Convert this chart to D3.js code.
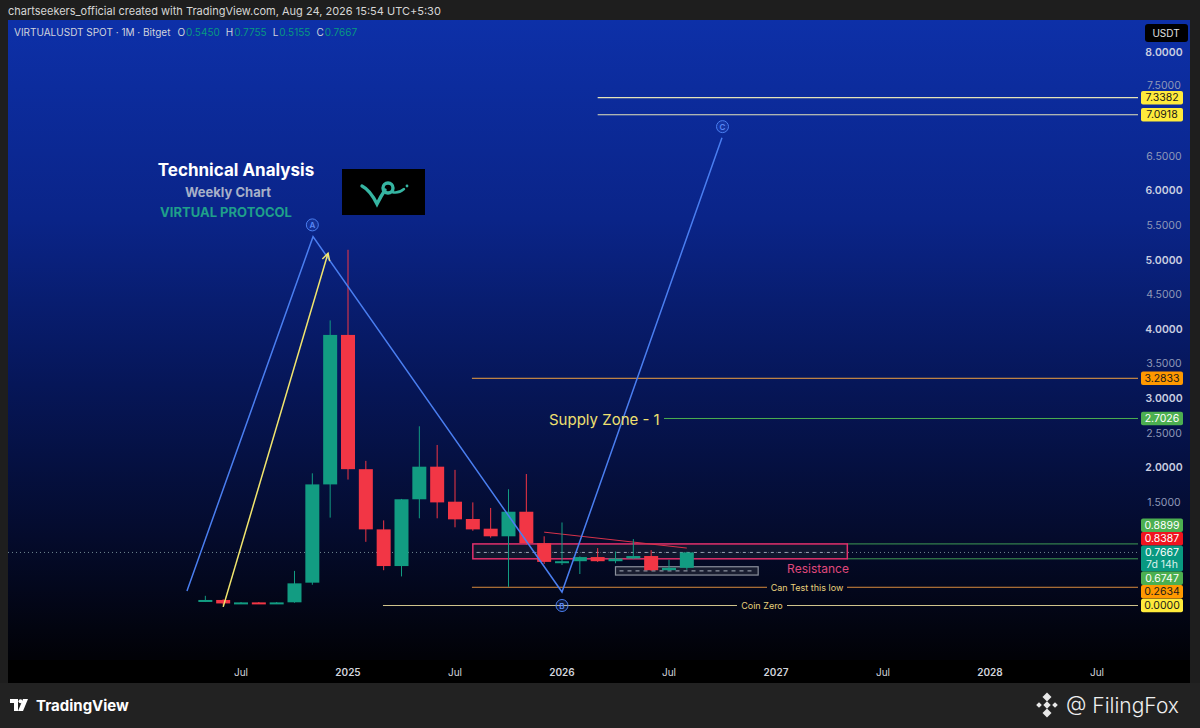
<!DOCTYPE html>
<html><head><meta charset="utf-8">
<script src="https://cdn.jsdelivr.net/npm/d3@7"></script>
<style>html,body{margin:0;padding:0;background:#1e1e1e;}svg{display:block;font-family:Inter,"Noto Sans",Roboto,sans-serif;}</style>
</head><body><svg id="c" width="1200" height="728"></svg>
<script>
// ---- data ----
// month index: 0 = Jan 2024
const months = [4,5,6,7,8,9,10,11,12,13,14,15,16,17,18,19,20,21,22,23,24,25,26,27,28,29,30,31];
const opens  = [0.06,0.08,0.03,0.045,0.035,0.046,0.33,1.75,3.91,1.97,1.10,0.57,1.535,2.006,1.50,1.25,1.11,1.00,1.355,0.90,0.63,0.64,0.70,0.64,0.68,0.715,0.51,0.545];
const highs  = [0.14,0.09,0.05,0.05,0.05,0.50,1.91,4.12,5.14,2.09,1.23,1.54,2.59,2.32,1.96,1.49,1.41,1.68,1.90,1.00,1.20,0.71,0.83,0.78,0.96,0.80,0.66,0.7755];
const lows   = [0.05,0.01,0.025,0.03,0.03,0.04,0.30,1.27,1.82,0.92,0.51,0.42,1.26,1.26,1.13,1.08,0.98,0.27,0.88,0.60,0.585,0.455,0.63,0.61,0.67,0.50,0.50,0.5155];
const closes = [0.08,0.03,0.045,0.035,0.045,0.32,1.75,3.91,1.97,1.10,0.57,1.535,2.006,1.49,1.245,1.10,1.00,1.355,0.90,0.63,0.64,0.70,0.64,0.68,0.715,0.51,0.545,0.7667];
const xTicks = [6,12,18,24,30,36,42,48,54];
const xTickLabels = ["Jul","2025","Jul","2026","Jul","2027","Jul","2028","Jul"];
const yTicks = [1.5,2,2.5,3,3.5,4,4.5,5,5.5,6,6.5,7.5,8];
const wavePts = [[2.97,0.21],[10.04,5.33],[24,0.195],[32.97,6.76]];
const waveLabels = [["A",10,5.5],["B",24,0],["C",33,6.92]];
const arrowPts = [[5.0,-0.02],[10.88,5.09]];
const legendItems = [["O","0.5450"],["H","0.7755"],["L","0.5155"],["C","0.7667"]];
const priceLabels = [
  {v:7.3382,bg:"#ffeb3b",fg:"#1a1a1a"},
  {v:7.0918,bg:"#ffeb3b",fg:"#1a1a1a"},
  {v:3.2833,bg:"#ff9800",fg:"#1a1a1a"},
  {v:2.7026,bg:"#4caf50",fg:"#ffffff"},
  {v:0.8899,bg:"#4caf50",fg:"#ffffff"},
  {v:0.8387,bg:"#f0141e",fg:"#ffffff"},
  {v:0.7667,bg:"#089981",fg:"#ffffff",sub:"7d 14h",fixed:true},
  {v:0.6747,bg:"#4caf50",fg:"#ffffff"},
  {v:0.2634,bg:"#ff9800",fg:"#1a1a1a"},
  {v:0.0000,bg:"#ffeb3b",fg:"#1a1a1a"}
];
const lastPrice = 0.7667;

// ---- layout ----
const svg = d3.select("#c");
const L = 8, R = 1138, T = 20, B = 683;
const x = d3.scaleLinear().domain([12,24]).range([348,562]);
const y = d3.scaleLinear().domain([0,8]).range([605.5,51.9]);

const defs = svg.append("defs");
const g = defs.append("linearGradient").attr("id","bg").attr("x1",0).attr("y1",0).attr("x2",0).attr("y2",1);
[[0,"#0d30a8"],[0.3,"#0a2488"],[0.55,"#061658"],[0.78,"#040b2c"],[0.92,"#02040f"],[1,"#000"]].forEach(s=>g.append("stop").attr("offset",s[0]).attr("stop-color",s[1]));
defs.append("clipPath").attr("id","plot").append("rect").attr("x",L).attr("y",T).attr("width",R-L).attr("height",640);

svg.append("rect").attr("width",1200).attr("height",728).attr("fill","#1e1e1e");
svg.append("text").attr("x",8).attr("y",15).attr("fill","#d6d6d6").attr("font-size",11).text("chartseekers_official created with TradingView.com, Aug 24, 2026 15:54 UTC+5:30");
svg.append("rect").attr("x",L).attr("y",T).attr("width",1190-L).attr("height",B-T).attr("fill","url(#bg)");
svg.append("rect").attr("x",L).attr("y",660).attr("width",1190-L).attr("height",B-660).attr("fill","#000");

// legend
const lt = svg.append("text").attr("x",14).attr("y",36).attr("font-size",10).attr("fill","#d1d4dc").text("VIRTUALUSDT SPOT · 1M · Bitget");
let lx = 14 + lt.node().getComputedTextLength() + 7;
legendItems.forEach(([k,v])=>{
  const kt = svg.append("text").attr("x",lx).attr("y",36).attr("font-size",10).attr("fill","#d1d4dc").text(k);
  lx += kt.node().getComputedTextLength() + 1;
  const vt = svg.append("text").attr("x",lx).attr("y",36).attr("font-size",10).attr("fill","#089981").text(v);
  lx += vt.node().getComputedTextLength() + 6;
});

// USDT box
svg.append("rect").attr("x",1145).attr("y",24).attr("width",43).attr("height",18).attr("rx",3).attr("fill","#000");
svg.append("text").attr("x",1166).attr("y",37).attr("text-anchor","middle").attr("font-size",10).attr("fill","#e0e0e0").text("USDT");

// y axis ticks
svg.append("g").selectAll("text").data(yTicks).join("text")
  .attr("x",1164).attr("y",d=>y(d)+(d===7.5?2:4)).attr("text-anchor","middle").attr("font-size",10.5)
  .attr("font-weight",d=>d%1===0?600:400)
  .attr("fill",d=>d%1===0?"#c9cde0":"#8f98b8").text(d=>d.toFixed(4));

// x axis
svg.append("g").selectAll("text").data(xTicks).join("text")
  .attr("x",d=>x(d)).attr("y",676).attr("text-anchor","middle").attr("font-size",10)
  .attr("font-weight",(d,i)=>xTickLabels[i]==="Jul"?400:600)
  .attr("fill","#d1d4dc").text((d,i)=>xTickLabels[i]);

const p = svg.append("g").attr("clip-path","url(#plot)");

// current price dotted line
p.append("line").attr("x1",L).attr("x2",R).attr("y1",y(lastPrice)).attr("y2",y(lastPrice))
  .attr("stroke","#6f8690").attr("stroke-width",1).attr("stroke-dasharray","1,3");

// horizontal levels
function hline(x1,v,color,w){p.append("line").attr("x1",x1).attr("x2",R).attr("y1",y(v)).attr("y2",y(v)).attr("stroke",color).attr("stroke-width",w||1);}
hline(x(26),7.3382,"#e6e4b8",1.2);
hline(x(26),7.0918,"#e6e4b8",1.2);
hline(x(18.95),3.2833,"#f0a040",1);
hline(x(29.72),2.7026,"#4caf50",1);
hline(x(40),0.8899,"#3f9a55",1);
hline(x(40),0.6747,"#3f9a55",1);

function labeledLine(x1,v,color,label,cx,tw){
  p.append("line").attr("x1",x1).attr("x2",cx-tw/2-4).attr("y1",y(v)).attr("y2",y(v)).attr("stroke",color);
  p.append("line").attr("x1",cx+tw/2+4).attr("x2",R).attr("y1",y(v)).attr("y2",y(v)).attr("stroke",color);
  p.append("text").attr("x",cx).attr("y",y(v)+3.5).attr("text-anchor","middle").attr("font-size",9).attr("fill","#e8d27c").text(label);
}
labeledLine(x(18.95),0.2634,"#d98a3e","Can Test this low",807,72);
labeledLine(x(13.96),0,"#cfc38c","Coin Zero",762,42);

// resistance box
p.append("rect").attr("x",x(19)).attr("y",y(0.8899)).attr("width",x(40)-x(19)).attr("height",y(0.6747)-y(0.8899))
  .attr("fill","rgba(30,34,52,0.55)").attr("stroke","#e2306c").attr("stroke-width",1.5);
p.append("line").attr("x1",x(19)+4).attr("x2",x(40)-4).attr("y1",y(lastPrice)).attr("y2",y(lastPrice))
  .attr("stroke","#9aa3b5").attr("stroke-dasharray","3,4");
// gray box
p.append("rect").attr("x",x(27)).attr("y",y(0.56)).attr("width",x(35)-x(27)).attr("height",y(0.44)-y(0.56))
  .attr("fill","rgba(40,44,58,0.6)").attr("stroke","#8b909c").attr("stroke-width",1.2);
p.append("line").attr("x1",x(27)+4).attr("x2",x(35)-4).attr("y1",y(0.50)).attr("y2",y(0.50))
  .attr("stroke","#aab0bc").attr("stroke-dasharray","4,4");
// red trend line
p.append("line").attr("x1",x(23)).attr("y1",y(1.06)).attr("x2",x(31)).attr("y2",y(0.83)).attr("stroke","#d8324a").attr("stroke-width",1);

// candles
const candles = months.map((m,i)=>({m,o:opens[i],h:highs[i],l:lows[i],c:closes[i]}));
const bw = 14;
const cg = p.append("g").selectAll("g").data(candles).join("g");
cg.append("line").attr("x1",d=>x(d.m)).attr("x2",d=>x(d.m)).attr("y1",d=>y(d.h)).attr("y2",d=>y(d.l))
  .attr("stroke",d=>d.c>=d.o?"#129c82":"#f23645").attr("stroke-width",1);
cg.append("rect").attr("x",d=>x(d.m)-bw/2).attr("width",bw)
  .attr("y",d=>y(Math.max(d.o,d.c))).attr("height",d=>Math.max(2,Math.abs(y(d.o)-y(d.c))))
  .attr("fill",d=>d.c>=d.o?"#129c82":"#f23645");

// wave lines
const line = d3.line().x(d=>x(d[0])).y(d=>y(d[1]));
p.append("path").attr("d",line(wavePts)).attr("fill","none").attr("stroke","#4a7ef0").attr("stroke-width",1.5);
p.append("path").attr("d",line(arrowPts)).attr("fill","none").attr("stroke","#f2e66e").attr("stroke-width",1.5);
{
  const [x1,y1]=[x(arrowPts[0][0]),y(arrowPts[0][1])],[x2,y2]=[x(arrowPts[1][0]),y(arrowPts[1][1])];
  const a=Math.atan2(y2-y1,x2-x1), s=8;
  const h1=[x2-s*Math.cos(a-0.5),y2-s*Math.sin(a-0.5)], h2=[x2-s*Math.cos(a+0.5),y2-s*Math.sin(a+0.5)];
  p.append("path").attr("d",`M${h1}L${x2},${y2}L${h2}`).attr("fill","none").attr("stroke","#f2e66e").attr("stroke-width",1.5);
}
waveLabels.forEach(([t,m,v])=>{
  p.append("circle").attr("cx",x(m)).attr("cy",y(v)).attr("r",6).attr("fill","rgba(74,126,240,0.15)").attr("stroke","#4a7ef0").attr("stroke-width",1);
  p.append("text").attr("x",x(m)).attr("y",y(v)+3).attr("text-anchor","middle").attr("font-size",8).attr("font-weight",600).attr("fill","#5a88f5").text(t);
});

// texts
p.append("text").attr("x",236).attr("y",176).attr("text-anchor","middle").attr("font-size",17).attr("font-weight",700).attr("fill","#ffffff").text("Technical Analysis");
p.append("text").attr("x",228).attr("y",197).attr("text-anchor","middle").attr("font-size",13).attr("font-weight",700).attr("fill","#a7b0c8").text("Weekly Chart");
p.append("text").attr("x",226).attr("y",217).attr("text-anchor","middle").attr("font-size",13).attr("font-weight",700).attr("fill","#1fa08a").text("VIRTUAL PROTOCOL");
p.append("text").attr("x",549).attr("y",425).attr("font-size",15).attr("fill","#efe070").text("Supply Zone - 1");
p.append("text").attr("x",818).attr("y",573).attr("text-anchor","middle").attr("font-size",12).attr("fill","#e0487c").text("Resistance");

// logo box
p.append("rect").attr("x",342).attr("y",169).attr("width",83).attr("height",46).attr("fill","#000");
const lgo = p.append("g").attr("fill","none").attr("stroke","#36b5a2").attr("stroke-width",3.4).attr("stroke-linecap","round");
lgo.append("path").attr("d","M362,186 Q370,190 377,204 Q381,196 385,190");
lgo.append("circle").attr("cx",388).attr("cy",188).attr("r",5);
lgo.append("path").attr("d","M392,192 Q398,194 404,189").attr("stroke-width",2.4);
p.append("circle").attr("cx",407).attr("cy",186).attr("r",1.4).attr("fill","#36b5a2");

// price labels with stacking
const lh = 13.5;
const items = priceLabels.map(d=>({...d, h:d.sub?26:lh, y0:y(d.v)}));
items.forEach(d=>{d.top = d.y0 - (d.sub?7:lh/2);});
const fixed = items.find(d=>d.fixed);
const above = items.filter(d=>!d.fixed && d.y0<=fixed.y0).sort((a,b)=>b.y0-a.y0);
let limit = fixed.top;
above.forEach(d=>{ if(d.top+d.h>limit) d.top=limit-d.h; limit=d.top; });
const below = items.filter(d=>!d.fixed && d.y0>fixed.y0).sort((a,b)=>a.y0-b.y0);
limit = fixed.top+fixed.h;
below.forEach(d=>{ if(d.top<limit) d.top=limit; limit=d.top+d.h; });
const lgp = svg.append("g").selectAll("g").data(items).join("g");
lgp.append("rect").attr("x",1141).attr("y",d=>d.top).attr("width",42).attr("height",d=>d.h).attr("rx",2).attr("fill",d=>d.bg);
lgp.append("text").attr("x",1162).attr("y",d=>d.top+10.2).attr("text-anchor","middle").attr("font-size",10.5).attr("fill",d=>d.fg).text(d=>d.v.toFixed(4));
lgp.filter(d=>d.sub).append("text").attr("x",1162).attr("y",d=>d.top+22.5).attr("text-anchor","middle").attr("font-size",10.5).attr("fill","#d8f0ea").text(d=>d.sub);

// footer
svg.append("rect").attr("x",0).attr("y",B).attr("width",1200).attr("height",728-B).attr("fill","#222222");
const tv = svg.append("g").attr("transform","translate(10,699)");
tv.append("path").attr("d","M0,0H8V12H4V4H0Z").attr("fill","#ffffff");
tv.append("circle").attr("cx",10.5).attr("cy",2.2).attr("r",2).attr("fill","#ffffff");
tv.append("path").attr("d","M13,0H18L13,12H8Z").attr("fill","#ffffff");
svg.append("text").attr("x",36).attr("y",711).attr("font-size",15).attr("font-weight",700).attr("fill","#ffffff").text("TradingView");
const bn = svg.append("g").attr("transform","translate(1047,705)").attr("fill","#e8e8e8");
[[0,-8,3.2],[0,8,3.2],[-8,0,2],[8,0,2],[0,0,2.6]].forEach(([cx,cy,s])=>bn.append("rect").attr("x",cx-s).attr("y",cy-s).attr("width",2*s).attr("height",2*s).attr("transform",`rotate(45 ${cx} ${cy})`));
svg.append("text").attr("x",1066).attr("y",713).attr("font-size",21).attr("font-weight",300).attr("fill","#eeeeee").text("@ FilingFox");
</script></body></html>
